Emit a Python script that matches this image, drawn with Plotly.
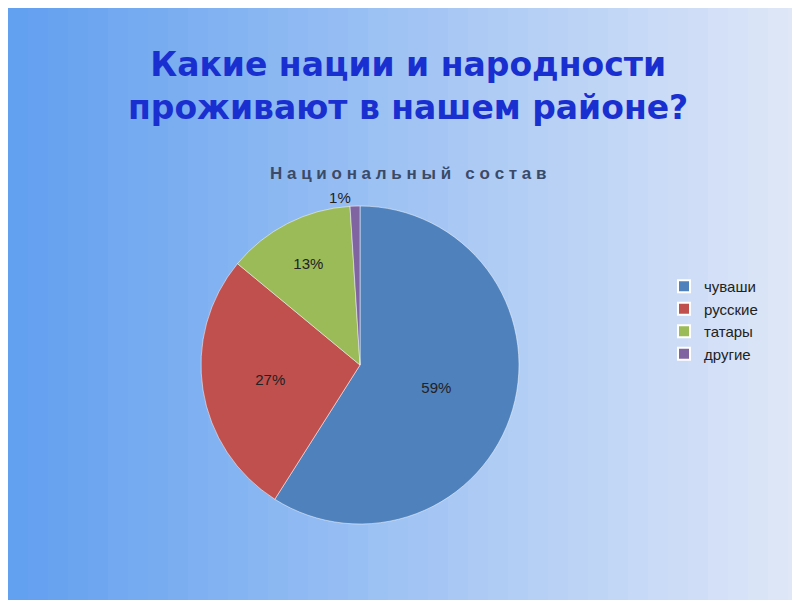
import plotly.graph_objects as go

labels = ["чуваши", "русские", "татары", "другие"]
values = [59, 27, 13, 1]
colors = ["#4F81BD", "#C0504D", "#9BBB59", "#8064A2"]

fig = go.Figure()
fig.add_trace(go.Pie(
    labels=labels, values=values, sort=False, direction="clockwise", rotation=0,
    marker=dict(colors=colors, line=dict(color="#ffffff", width=0.5)),
    texttemplate="%{percent:.0%}",
    textposition=["inside", "inside", "inside", "outside"],
    insidetextorientation="horizontal",
    textfont=dict(family="Liberation Sans", size=15, color="#222222"),
    domain=dict(x=[0.08, 0.8], y=[0.14, 0.67]),
))

shapes = []
n = 40
for i in range(n):
    t = i / (n - 1)
    r = int(0x62 + t * (0xE0 - 0x62))
    g = int(0xA0 + t * (0xE8 - 0xA0))
    b = int(0xF0 + t * (0xF8 - 0xF0))
    shapes.append(dict(type="rect", xref="paper", yref="paper", layer="below",
                       x0=i / n, x1=(i + 1) / n + 0.002, y0=0, y1=1,
                       fillcolor=f"rgb({r},{g},{b})", line=dict(width=0)))

fig.update_layout(
    width=800, height=600, autosize=False,
    margin=dict(l=0, r=0, t=0, b=0, pad=0, autoexpand=False),
    paper_bgcolor="#9cc4f2", plot_bgcolor="rgba(0,0,0,0)", shapes=shapes,
    xaxis=dict(visible=False, range=[0, 1]), yaxis=dict(visible=False, range=[0, 1]),
    legend=dict(x=0.82, y=0.48, xanchor="left", yanchor="middle",
                font=dict(family="Liberation Sans", size=15, color="#222222"),
                bgcolor="rgba(0,0,0,0)", itemsizing="constant"),
    annotations=[
        dict(text="<b>Какие нации и народности<br>проживают в нашем районе?</b>",
             x=0.5, y=0.87, xref="paper", yref="paper", showarrow=False,
             yanchor="middle", font=dict(family="DejaVu Sans", size=33, color="#1a2fd0")),
        dict(text="<b>Н а ц и о н а л ь н ы й   с о с т а в</b>",
             x=0.5, y=0.725, xref="paper", yref="paper", showarrow=False,
             yanchor="middle", font=dict(family="Liberation Sans", size=17, color="#3b4a66")),
    ],
)
fig.write_html("out.html")
